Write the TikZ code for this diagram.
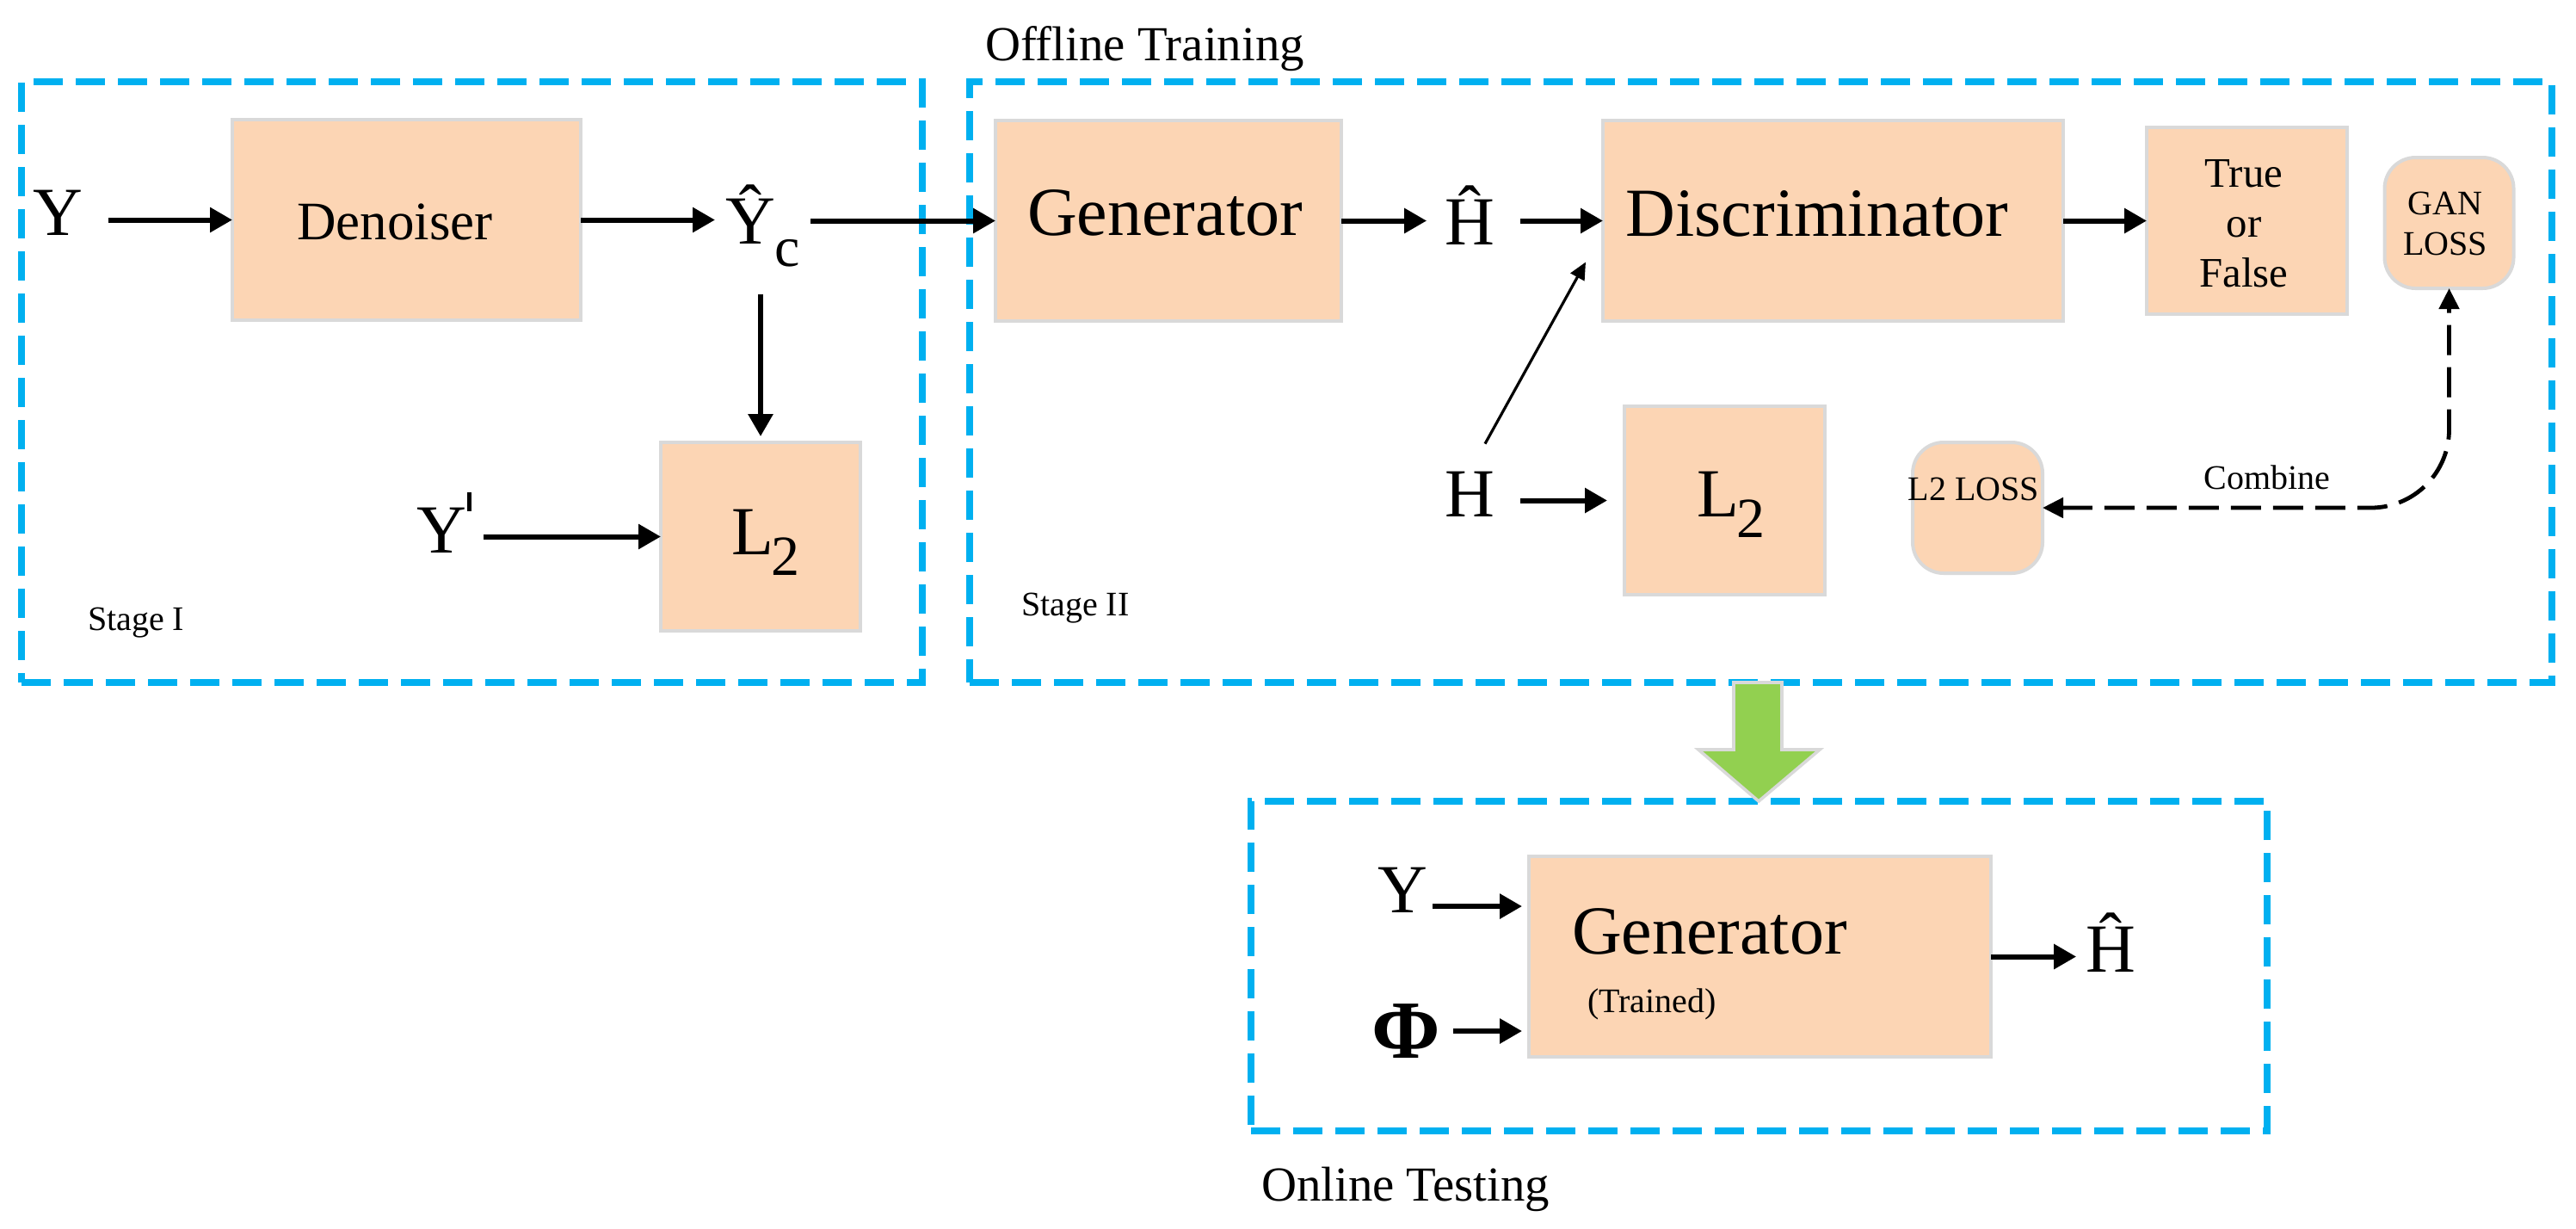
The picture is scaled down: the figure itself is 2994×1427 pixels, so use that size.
\documentclass[tikz,border=0pt]{standalone}
\usepackage{fontspec}
\setmainfont{Liberation Serif}
\usetikzlibrary{arrows.meta,calc}
\definecolor{dashblue}{HTML}{00B0F0}
\definecolor{peach}{HTML}{FCD5B4}
\definecolor{boxgray}{HTML}{D9D9D9}
\definecolor{arrowgreen}{HTML}{92D050}
\newcommand{\myfs}[1]{\fontsize{#1}{#1}\selectfont}
\begin{document}
\begin{tikzpicture}[x=0.25pt,y=-0.25pt,
  stagebox/.style={draw=dashblue, line width=1.9pt, dash pattern=on 8.5pt off 3.75pt, inner sep=0pt, outer sep=0pt},
  block/.style={draw=boxgray, fill=peach, line width=1pt, inner sep=0pt, outer sep=0pt},
  rblock/.style={block, rounded corners=9pt},
  lbl/.style={inner sep=0pt, outer sep=0pt, anchor=base},
  lblw/.style={inner sep=0pt, outer sep=0pt, anchor=base west},
  big/.style={font=\myfs{20}},
  arr/.style={line width=1.5pt, -{Triangle[length=6.5pt,width=7pt]}},
  thinarr/.style={line width=0.8pt, -{Triangle[length=5pt,width=4.5pt]}},
  dasharr/.style={line width=1.2pt, dash pattern=on 8.75pt off 3.5pt, {Triangle[length=6pt,width=5.75pt]}-{Triangle[length=6pt,width=5.75pt]}, rounded corners=22.75pt},
]
\useasboundingbox (0,0) rectangle (2994,1427);
% stage frames
\node[stagebox, minimum width=261.75pt, minimum height=174.5pt] (s1) at (548.5,444) {};
\node[stagebox, minimum width=459.75pt, minimum height=174.5pt] (s2) at (2046.5,444) {};
\node[stagebox, minimum width=295.25pt, minimum height=95.75pt] (s3) at (2044.5,1122.5) {};
\node[lblw, font=\myfs{14.2}] (toff) at (1145,70) {Offline Training};
\node[lblw, font=\myfs{14.2}] (tonl) at (1466,1395) {Online Testing};
\node[lblw, font=\myfs{10}] (tst1) at (102,732) {Stage I};
\node[lblw, font=\myfs{10}] (tst2) at (1187,715) {Stage II};
% blocks
\node[block, minimum width=101.25pt, minimum height=58.25pt] (den) at (472.5,255.5) {};
\node[block, minimum width=58pt, minimum height=54.75pt] (l2a) at (884,623.5) {};
\node[block, minimum width=100.5pt, minimum height=58.25pt] (gen) at (1358,256.5) {};
\node[block, minimum width=133.75pt, minimum height=58.25pt] (disc) at (2130.5,256.5) {};
\node[block, minimum width=58.25pt, minimum height=54.25pt] (tf) at (2611.5,256.5) {};
\node[rblock, minimum width=37.5pt, minimum height=38pt] (gan) at (2846.5,259) {};
\node[block, minimum width=58.25pt, minimum height=54.75pt] (l2b) at (2004.5,581.5) {};
\node[rblock, minimum width=37.75pt, minimum height=38pt] (l2loss) at (2298.5,590) {};
\node[block, minimum width=134.25pt, minimum height=58.25pt] (gent) at (2045.5,1111.5) {};
% block texts
\node[lbl, font=\myfs{15.75}] (tden) at (459,278) {Denoiser};
\node[lblw, big] (tl2a) at (850,644) {L\hspace{-0.5pt}\raisebox{-6pt}{\myfs{16.5}2}};
\node[lbl, big] (tgen) at (1354,273) {Generator};
\node[lbl, big] (tdisc) at (2112,274) {Discriminator};
\node[lbl, font=\myfs{12.2}] (ttrue) at (2608,217) {True};
\node[lbl, font=\myfs{12.2}] (tor) at (2608,275) {or};
\node[lbl, font=\myfs{12.2}] (tfalse) at (2608,333) {False};
\node[lbl, font=\myfs{10}] (tgan) at (2842,249) {GAN};
\node[lbl, font=\myfs{10}] (tloss) at (2842,296) {LOSS};
\node[lblw, big] (tl2b) at (1972,600) {L\hspace{-0.5pt}\raisebox{-6pt}{\myfs{16.5}2}};
\node[lbl, font=\myfs{10}] (tl2loss) at (2294,581) {L2 LOSS};
\node[lblw, big] (tgent) at (1827,1108) {Generator};
\node[lblw, font=\myfs{10}] (ttrained) at (1845,1176) {(Trained)};
% signal labels
\node[lbl, big] (tY1) at (67,273) {Y};
\node[lblw, big] (tYc) at (843,283) {Ŷ\raisebox{-6.5pt}{\myfs{16.5}c}};
\node[lblw, big] (tYp) at (484,642) {Y\hspace{0.3pt}\raisebox{12pt}{\rule{1.2pt}{5.5pt}}};
\node[lbl, big] (tHh1) at (1708,284) {Ĥ};
\node[lbl, big] (tH) at (1708,600) {H};
\node[lblw, big] (tY2) at (1601,1060) {Y};
\node[inner sep=0pt, font=\myfs{24}\bfseries] (tPhi) at (1634,1198) {Φ};
\node[lbl, big] (tHh2) at (2453,1129) {Ĥ};
\node[lbl, font=\myfs{10}] (tcomb) at (2635,568) {Combine};
% connectors, stage I
\draw[arr, shorten <=7.5pt] (tY1.east |- den.west) -- (den.west);
\draw[arr, shorten >=3pt] (den.east) -- (tYc.west |- den.east);
\draw[arr, shorten <=3pt] (tYc.east |- gen.west) -- (gen.west);
\draw[arr, shorten <=8pt, shorten >=1.75pt] (tYc.south -| l2a.north) -- (l2a.north);
\draw[arr, shorten <=3.5pt] (tYp.east |- l2a.west) -- (l2a.west);
% stage II
\draw[arr, shorten >=5.25pt] (gen.east) -- (tHh1.west |- gen.east);
\draw[arr, shorten <=7.5pt] (tHh1.east |- disc.west) -- (disc.west);
\draw[arr] (disc.east) -- (tf.west |- disc.east);
\draw[thinarr] ($(tH.north)+(18,-32)$) -- ($(disc.west)+(-20,48)$);
\draw[arr, shorten <=7.5pt, shorten >=5pt] (tH.east |- l2b.west) -- (l2b.west);
\draw[dasharr] (l2loss.east) -- (gan.south |- l2loss.east) -- (gan.south);
% green transition arrow
\draw[boxgray, line width=0.9pt, fill=arrowgreen]
  ($(s2.south)+(-31.5,0)$) -- ($(s2.south)+(24.5,0)$) -- ($(s2.south)+(24.5,78)$)
  -- ($(s2.south)+(68.5,78)$) -- ($(s3.north)+(-0.5,0)$) -- ($(s2.south)+(-72.5,78)$)
  -- ($(s2.south)+(-31.5,78)$) -- cycle;
% online
\coordinate (yin) at ($(gent.west)+(0,-58.5)$);
\coordinate (pin) at ($(gent.west)+(0,86.5)$);
\draw[arr, shorten <=1.5pt, shorten >=2pt] (tY2.east |- yin) -- (yin);
\draw[arr, shorten <=3.5pt, shorten >=2pt] (tPhi.east |- pin) -- (pin);
\draw[arr, shorten >=2.75pt] (gent.east) -- (tHh2.west |- gent.east);
\end{tikzpicture}
\end{document}
